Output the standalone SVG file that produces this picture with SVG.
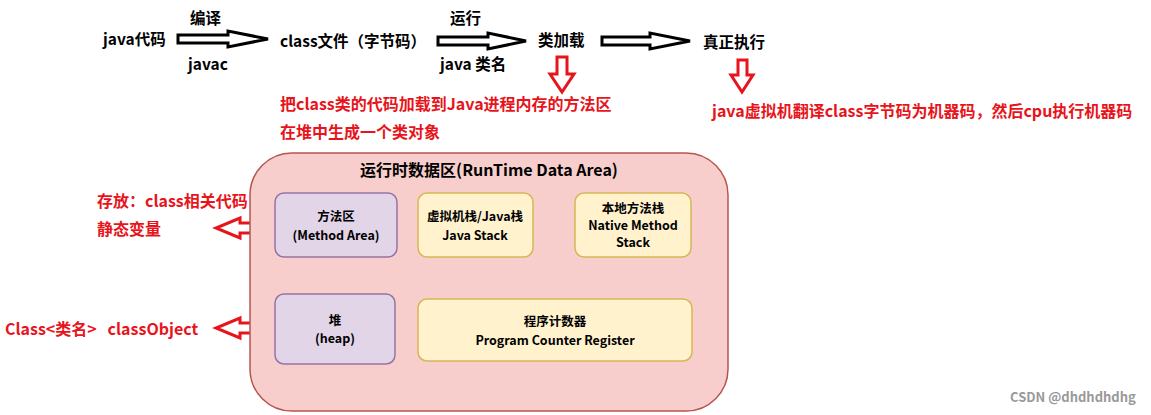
<svg xmlns="http://www.w3.org/2000/svg" width="1151" height="415" viewBox="0 0 1151 415">
<style>
text{font-family:"Noto Sans CJK SC","Liberation Sans",sans-serif;font-weight:bold}
.k{font-size:15.5px;fill:#000}
.r{font-size:16px;fill:#e8141b}
.n{font-size:12.5px;fill:#000;text-anchor:middle}
.ba{fill:#fff;stroke:#000;stroke-width:3}
.ra{fill:#fff;stroke:#e8141b;stroke-width:3}
.p{fill:#e1d5e7;stroke:#9673a6;stroke-width:1.5}
.y{fill:#fff2cc;stroke:#d6b656;stroke-width:1.5}
</style>
<rect width="1151" height="415" fill="#fff"/>
<g id="labels">
<text class="k" x="103" y="45">java代码</text>
<text class="k" x="190" y="24">编译</text>
<text class="k" x="188" y="70">javac</text>
<text class="k" x="280" y="47">class文件（字节码）</text>
<text class="k" x="450" y="24">运行</text>
<text class="k" x="440" y="70">java 类名</text>
<text class="k" x="538" y="46">类加载</text>
<text class="k" x="703" y="48">真正执行</text>
<text class="r" x="280" y="110">把class类的代码加载到Java进程内存的方法区</text>
<text class="r" x="280" y="138">在堆中生成一个类对象</text>
<text class="r" x="712" y="117">java虚拟机翻译class字节码为机器码，然后cpu执行机器码</text>
<text class="r" x="97" y="207">存放：class相关代码</text>
<text class="r" x="97" y="235">静态变量</text>
<text class="r" x="5" y="335" xml:space="preserve">Class&lt;类名&gt;   classObject</text>
</g>
<g id="connectors">
<polygon class="ba" points="178,35 228,35 228,31 268,39 228,47 228,43 178,43"/>
<polygon class="ba" points="438,37 488,37 488,33 526,41 488,49 488,45 438,45"/>
<polygon class="ba" points="602,37 650,37 650,33 690,41 650,49 650,45 602,45"/>
<polygon class="ra" points="557,57 567,57 567,74 574,74 562,92 550,74 557,74"/>
<polygon class="ra" points="738,60 747,60 747,75 753,75 742,92 731,75 738,75"/>
<polygon class="ra" points="270,223 240,223 240,218 216,228 240,238 240,233 270,233"/>
<polygon class="ra" points="267,323 240,323 240,318 216,328 240,338 240,333 267,333"/>
</g>
<g id="runtime">
<rect x="250" y="153" width="478" height="258" rx="42" fill="#f8cecc" stroke="#b85450" stroke-width="1.5"/>
<text x="489" y="176" font-size="16" text-anchor="middle">运行时数据区(RunTime Data Area)</text>
</g>
<g id="method"><rect class="p" x="275" y="193" width="122" height="64" rx="9"/><text class="n" x="336" y="221">方法区</text><text class="n" x="336" y="240">(Method Area)</text></g>
<g id="jstack"><rect class="y" x="418" y="193" width="115" height="64" rx="9"/><text class="n" x="475" y="221">虚拟机栈/Java栈</text><text class="n" x="475" y="240">Java Stack</text></g>
<g id="native"><rect class="y" x="575" y="193" width="116" height="64" rx="9"/><text class="n" x="633" y="213">本地方法栈</text><text class="n" x="633" y="230">Native Method</text><text class="n" x="633" y="247">Stack</text></g>
<g id="heap"><rect class="p" x="275" y="294" width="120" height="70" rx="9"/><text class="n" x="335" y="325">堆</text><text class="n" x="335" y="343">(heap)</text></g>
<g id="pc"><rect class="y" x="418" y="299" width="274" height="62" rx="9"/><text class="n" x="555" y="326">程序计数器</text><text class="n" x="555" y="345">Program Counter Register</text></g>
<text x="1010" y="402" font-family="Liberation Sans,sans-serif" font-size="13" font-weight="normal" fill="#999">CSDN @dhdhdhdhg</text>
</svg>
